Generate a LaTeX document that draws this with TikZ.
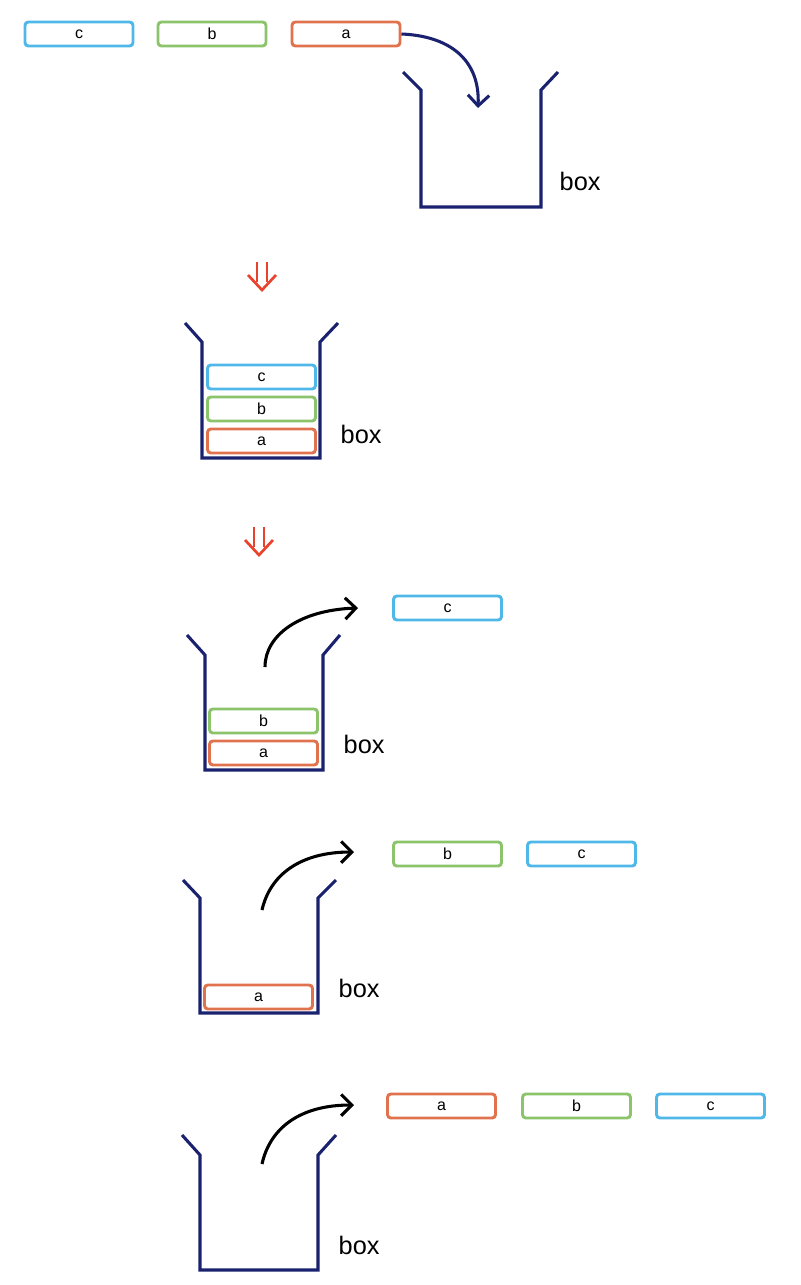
\documentclass[tikz,border=0pt]{standalone}
\usepackage{fontspec}
\setmainfont{Liberation Sans}
\usetikzlibrary{arrows.meta}
\definecolor{cb}{HTML}{4FB8E8}
\definecolor{cg}{HTML}{8CC46C}
\definecolor{co}{HTML}{E0734E}
\definecolor{nv}{HTML}{1A2270}
\definecolor{rd}{HTML}{E8412C}
\begin{document}
\begin{tikzpicture}[x=0.75pt,y=-0.75pt,
 it/.style={draw=#1,line width=2.2pt,rounded corners=2.5pt,minimum width=81pt,minimum height=18pt,inner sep=0pt,font=\fontsize{12}{12}\selectfont},
 bx/.style={draw=nv,line width=2.3pt},
 lbl/.style={font=\fontsize{19}{19}\selectfont,anchor=west},
 arr/.style={line width=2.3pt,-{Straight Barb[length=8pt,width=16pt]}},
 red/.style={draw=rd,line width=2pt}]
\useasboundingbox (0,0) rectangle (800,1285);
% row 1
\node[it=cb] (c1) at (79,34) {c};
\node[it=cg] (b1) at (212,34) {b};
\node[it=co] (a1) at (346,34) {a};
\draw[bx] (403,72)--(421,90)--(421,207)--(541,207)--(541,90)--(558,72);
\coordinate (t1) at (478,108);
\draw[arr,nv] (a1.east) .. controls (450,36) and (480,60) .. (t1);
\node[lbl] (l1) at (555,181) {box};
% red arrows
\foreach \x/\y [count=\i] in {262/262,259/527}{
 \draw[red] (\x-5,\y)--(\x-5,\y+20) (\x+5,\y)--(\x+5,\y+20);
 \draw[red] (\x-14,\y+13)--(\x,\y+28)--(\x+14,\y+13);}
% box 2
\draw[bx] (185,323)--(202,342)--(202,458)--(320,458)--(320,342)--(338,323);
\node[it=cb] (c2) at (261.5,377) {c};
\node[it=cg] (b2) at (261.5,409) {b};
\node[it=co] (a2) at (261.5,441) {a};
\node[lbl] (l2) at (336,434) {box};
% box 3
\draw[bx] (187,635)--(205,655)--(205,770)--(323,770)--(323,655)--(340,635);
\node[it=cg] (b3) at (263.5,721) {b};
\node[it=co] (a3) at (263.5,753) {a};
\node[lbl] (l3) at (339,744) {box};
\node[it=cb] (c3) at (447.5,608) {c};
\coordinate (s3) at (265,667); \coordinate (e3) at (358,608);
\draw[arr,black] (s3) .. controls (265,635) and (300,610) .. (e3);
% box 4
\draw[bx] (183,880)--(200,898)--(200,1013)--(318,1013)--(318,898)--(336,880);
\node[it=co] (a4) at (258.5,997) {a};
\node[lbl] (l4) at (334,988) {box};
\node[it=cg] (b4) at (447.5,854) {b};
\node[it=cb] (c4) at (581.5,854) {c};
\coordinate (s4) at (262,910); \coordinate (e4) at (354,852);
\draw[arr,black] (s4) .. controls (270,875) and (300,852) .. (e4);
% box 5
\draw[bx] (182,1135)--(200,1155)--(200,1270)--(318,1270)--(318,1155)--(336,1135);
\node[lbl] (l5) at (334,1245) {box};
\node[it=co] (a5) at (441.5,1106) {a};
\node[it=cg] (b5) at (576.5,1106) {b};
\node[it=cb] (c5) at (710.5,1106) {c};
\coordinate (s5) at (262,1164); \coordinate (e5) at (354,1105);
\draw[arr,black] (s5) .. controls (270,1128) and (300,1105) .. (e5);
\end{tikzpicture}
\end{document}
